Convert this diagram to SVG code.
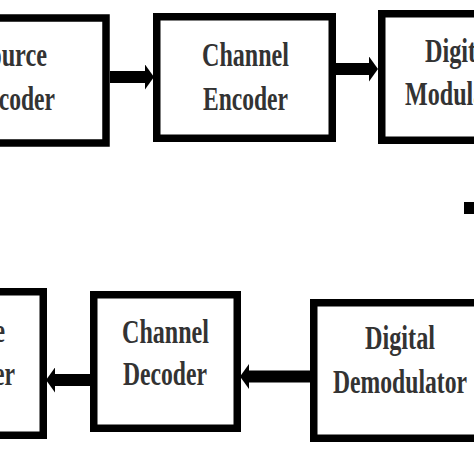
<svg xmlns="http://www.w3.org/2000/svg" width="474" height="474" viewBox="0 0 474 474">
<style>
.box{fill:#fff;stroke:#000;stroke-width:7.5}
.lbl{font-family:"Liberation Serif","Times New Roman",serif;font-weight:bold;font-size:34px;fill:#333}
.wire{stroke:#000;stroke-width:12;fill:none}
</style>
<defs>
<marker id="ah" markerUnits="userSpaceOnUse" markerWidth="9" markerHeight="25" viewBox="0 0 9 25" refX="0" refY="12.5" orient="auto">
<path d="M0,0 L9,12.5 L0,25 Z" fill="#000"/>
</marker>
</defs>
<rect width="474" height="474" fill="#fff"/>
<g id="connectors">
<line class="wire" x1="110" y1="77" x2="145" y2="77" marker-end="url(#ah)"/>
<line class="wire" x1="336" y1="69" x2="369" y2="69" marker-end="url(#ah)"/>
<line class="wire" x1="90" y1="380" x2="55" y2="380" marker-end="url(#ah)"/>
<line class="wire" x1="310" y1="376.5" x2="249" y2="376.5" marker-end="url(#ah)"/>
<rect x="464" y="202" width="10" height="12" fill="#000"/>
</g>
<g id="source-encoder">
<rect class="box" x="-96" y="18" width="202" height="125"/>
<text class="lbl" x="-24" y="66" textLength="71" lengthAdjust="spacingAndGlyphs">Source</text>
<text class="lbl" x="-30" y="110" textLength="85" lengthAdjust="spacingAndGlyphs">Encoder</text>
</g>
<g id="channel-encoder">
<rect class="box" x="156.75" y="16.75" width="175.5" height="121.5"/>
<text class="lbl" x="202" y="66" textLength="87" lengthAdjust="spacingAndGlyphs">Channel</text>
<text class="lbl" x="203" y="110" textLength="85" lengthAdjust="spacingAndGlyphs">Encoder</text>
</g>
<g id="digital-modulator">
<rect class="box" x="381.75" y="13.75" width="150" height="126.5"/>
<text class="lbl" x="425" y="62" textLength="70" lengthAdjust="spacingAndGlyphs">Digital</text>
<text class="lbl" x="405" y="105" textLength="111" lengthAdjust="spacingAndGlyphs">Modulator</text>
</g>
<g id="source-decoder">
<rect class="box" x="-96" y="291.75" width="139.25" height="143.5"/>
<text class="lbl" x="-66" y="342" textLength="71" lengthAdjust="spacingAndGlyphs">Source</text>
<text class="lbl" x="-69" y="385" textLength="84" lengthAdjust="spacingAndGlyphs">Decoder</text>
</g>
<g id="channel-decoder">
<rect class="box" x="93.75" y="294.75" width="143.5" height="133.5"/>
<text class="lbl" x="122" y="343" textLength="87" lengthAdjust="spacingAndGlyphs">Channel</text>
<text class="lbl" x="123" y="385" textLength="84" lengthAdjust="spacingAndGlyphs">Decoder</text>
</g>
<g id="digital-demodulator">
<rect class="box" x="313.75" y="302.75" width="200" height="135.5"/>
<text class="lbl" x="365" y="349" textLength="70" lengthAdjust="spacingAndGlyphs">Digital</text>
<text class="lbl" x="333" y="393" textLength="134" lengthAdjust="spacingAndGlyphs">Demodulator</text>
</g>
</svg>
